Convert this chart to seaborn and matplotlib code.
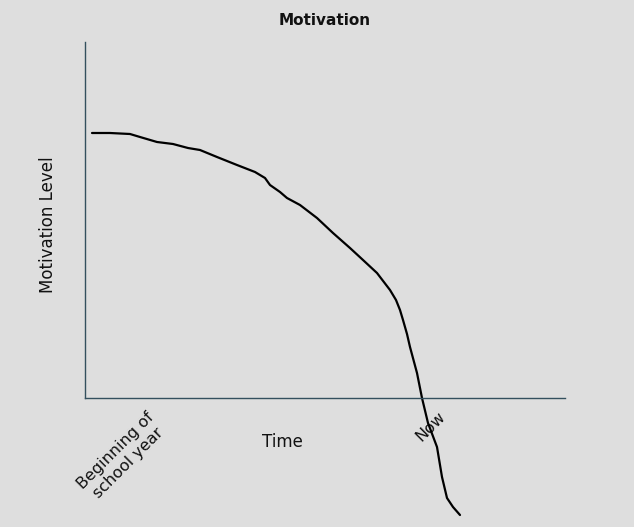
import matplotlib
matplotlib.use("Agg")
import matplotlib.pyplot as plt
import seaborn as sns
import pandas as pd

# values (pixel-ish units of the plot area)
time_vals = [7, 25, 45, 55, 72, 88, 103, 115, 132, 152, 170, 180, 185, 195, 202, 215,
             232, 248, 265, 278, 292, 305, 311, 315, 318, 322, 325, 332, 337, 343, 352,
             357, 362, 368, 375]
motivation_vals = [265, 265, 264, 261, 256, 254, 250, 248, 241, 233, 226, 220, 213, 206, 200, 193,
                   180, 165, 150, 138, 125, 108, 98, 88, 78, 64, 51, 25, 0, -25, -49,
                   -79, -100, -109, -117]
tick_pos = [37, 346]
tick_labels = ["Beginning of\nschool year", "Now"]

df = pd.DataFrame({"Time": time_vals, "Motivation": motivation_vals})

bg = "#dedede"
spine_col = "#34505e"

sns.set_style("white")
plt.rcParams['font.family'] = ['DejaVu Sans']

fig = plt.figure(figsize=(6.34, 5.27), dpi=100, facecolor=bg)
ax = fig.add_axes([85 / 634, 1 - 398 / 527, 480 / 634, 356 / 527])
ax.set_facecolor(bg)

sns.lineplot(data=df, x="Time", y="Motivation", sort=False, color="black",
             linewidth=1.6, ax=ax)
for ln in ax.lines:
    ln.set_clip_on(False)
    ln.set_solid_joinstyle("round")

ax.set_xlim(0, 480)
ax.set_ylim(0, 356)

sns.despine(ax=ax)
for s in ["left", "bottom"]:
    ax.spines[s].set_color(spine_col)
    ax.spines[s].set_linewidth(1.0)

ax.set_yticks([])
ax.set_xticks(tick_pos)
ax.set_xticklabels(tick_labels, rotation=45, ha="center", fontsize=11.5,
                   color="#111111", linespacing=1.3)
ax.tick_params(axis="x", length=0, pad=8)

ax.set_xlabel("Time", fontsize=12, color="#111111")
ax.xaxis.set_label_coords((282 - 85) / 480, (398 - 433) / 356)
ax.set_ylabel("Motivation Level", fontsize=12, color="#111111")
ax.yaxis.set_label_coords((57 - 85) / 480, (398 - 225) / 356)

ax.set_title("Motivation", fontsize=11, fontweight="bold", pad=12, color="#111111")

fig.savefig("out.png", dpi=100, facecolor=bg)
